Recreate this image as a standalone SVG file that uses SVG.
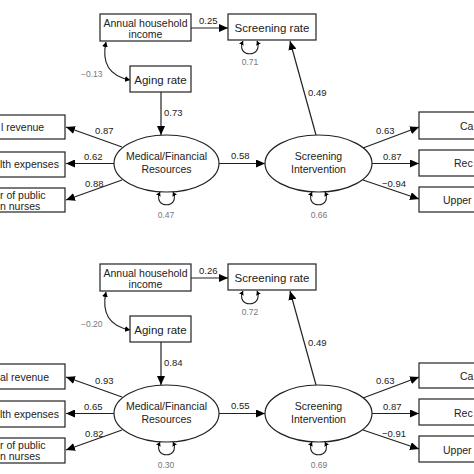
<svg xmlns="http://www.w3.org/2000/svg" width="474" height="474" viewBox="0 0 474 474">
<defs>
<marker id="ah" markerUnits="userSpaceOnUse" markerWidth="10" markerHeight="8" refX="9" refY="4" orient="auto-start-reverse"><path d="M0,0 L9,4 L0,8 Z" fill="#000"/></marker>
<marker id="sh" markerUnits="userSpaceOnUse" markerWidth="6" markerHeight="6" refX="5" refY="3" orient="auto-start-reverse"><path d="M0,0 L5,3 L0,6 Z" fill="#000"/></marker>
<marker id="lh" markerUnits="userSpaceOnUse" markerWidth="5" markerHeight="5" refX="4" refY="2.5" orient="auto-start-reverse"><path d="M0,0 L4,2.5 L0,5 Z" fill="#000"/></marker>
</defs>
<style>
.box{fill:#fff;stroke:#222;stroke-width:1.2}
.ell{fill:#fff;stroke:#222;stroke-width:1.2}
.ln{fill:none;stroke:#222;stroke-width:1.2;marker-end:url(#ah)}
.dbl{fill:none;stroke:#222;stroke-width:1.2;marker-start:url(#sh);marker-end:url(#sh)}
.loop{fill:none;stroke:#222;stroke-width:1.1;marker-start:url(#lh);marker-end:url(#lh)}
.t{font-family:"Liberation Sans",Arial,sans-serif;font-size:11.5px;fill:#222}
.ts{font-family:"Liberation Sans",Arial,sans-serif;font-size:10.5px;fill:#222}
.c{text-anchor:middle}
.n{font-family:"Liberation Sans",Arial,sans-serif;font-size:9.5px;fill:#222}
.g{font-family:"Liberation Sans",Arial,sans-serif;font-size:8.5px;fill:#777}
</style>

<!-- ===== Top panel ===== -->
<g id="top">
<g id="connectors-top">
<line class="ln" x1="191" y1="28" x2="228" y2="28"/>
<path class="dbl" d="M106,42 Q99,74 130,80"/>
<line class="ln" x1="161" y1="92" x2="161" y2="135"/>
<line class="ln" x1="122" y1="147" x2="66" y2="127"/>
<line class="ln" x1="114" y1="163.5" x2="66" y2="163.5"/>
<line class="ln" x1="122" y1="180" x2="66" y2="200"/>
<line class="ln" x1="219" y1="163.5" x2="265" y2="163.5"/>
<line class="ln" x1="316" y1="135" x2="290" y2="41"/>
<line class="ln" x1="363" y1="148" x2="419" y2="127"/>
<line class="ln" x1="372" y1="163.5" x2="419" y2="163.5"/>
<line class="ln" x1="363" y1="180" x2="419" y2="199"/>
<path class="loop" d="M243,41 C235,58 264,58 257,41"/>
<path class="loop" d="M160,192 C152,209 181,209 173,192"/>
<path class="loop" d="M312,192 C304,209 333,209 325,192"/>
<text class="n" x="199" y="24">0.25</text>
<text class="g" x="81" y="77">−0.13</text>
<text class="g c" x="250" y="65">0.71</text>
<text class="n" x="164" y="116">0.73</text>
<text class="n" x="95" y="134">0.87</text>
<text class="n" x="84" y="160">0.62</text>
<text class="n" x="85" y="187">0.88</text>
<text class="g c" x="166" y="218">0.47</text>
<text class="n" x="231" y="159">0.58</text>
<text class="n" x="308" y="96">0.49</text>
<text class="n" x="376" y="134">0.63</text>
<text class="n" x="383" y="160">0.87</text>
<text class="n" x="382" y="187">−0.94</text>
<text class="g c" x="319" y="218">0.66</text>
</g>
<g id="income-top"><rect class="box" x="100" y="14" width="91" height="27"/><text class="ts c" x="145.5" y="27">Annual household</text><text class="ts c" x="145.5" y="37.5">income</text></g>
<g id="screenrate-top"><rect class="box" x="228" y="14" width="88" height="26"/><text class="t c" x="272" y="31.5">Screening rate</text></g>
<g id="aging-top"><rect class="box" x="130" y="66" width="61" height="26"/><text class="t c" x="160.5" y="83.5">Aging rate</text></g>
<g id="medfin-top"><ellipse class="ell" cx="166.5" cy="163.5" rx="52.5" ry="28.5"/><text class="ts c" x="166.5" y="160">Medical/Financial</text><text class="ts c" x="166.5" y="173">Resources</text></g>
<g id="screenint-top"><ellipse class="ell" cx="318.5" cy="163.5" rx="53.5" ry="28.5"/><text class="ts c" x="318.5" y="160">Screening</text><text class="ts c" x="318.5" y="173">Intervention</text></g>
<g id="rev-top"><rect class="box" x="-5" y="115" width="70" height="24"/><text class="ts" x="1" y="131">l revenue</text></g>
<g id="hexp-top"><rect class="box" x="-5" y="152" width="70" height="25"/><text class="ts" x="0" y="168">lth expenses</text></g>
<g id="nurse-top"><rect class="box" x="-5" y="188" width="70" height="24"/><text class="ts" x="0" y="199">r of public</text><text class="ts" x="0" y="209.5">n nurses</text></g>
<g id="ca-top"><rect class="box" x="419" y="112" width="60" height="27"/><text class="ts" x="460" y="130">Ca</text></g>
<g id="rec-top"><rect class="box" x="419" y="150" width="60" height="26"/><text class="ts" x="454" y="167">Rec</text></g>
<g id="upper-top"><rect class="box" x="419" y="187" width="60" height="25"/><text class="ts" x="443" y="204">Upper</text></g>
</g>

<!-- ===== Bottom panel ===== -->
<g id="bottom" transform="translate(0,250)">
<g id="connectors-bottom">
<line class="ln" x1="191" y1="28" x2="228" y2="28"/>
<path class="dbl" d="M106,42 Q99,74 130,80"/>
<line class="ln" x1="161" y1="92" x2="161" y2="135"/>
<line class="ln" x1="122" y1="147" x2="66" y2="127"/>
<line class="ln" x1="114" y1="163.5" x2="66" y2="163.5"/>
<line class="ln" x1="122" y1="180" x2="66" y2="200"/>
<line class="ln" x1="219" y1="163.5" x2="265" y2="163.5"/>
<line class="ln" x1="316" y1="135" x2="290" y2="41"/>
<line class="ln" x1="363" y1="148" x2="419" y2="127"/>
<line class="ln" x1="372" y1="163.5" x2="419" y2="163.5"/>
<line class="ln" x1="363" y1="180" x2="419" y2="199"/>
<path class="loop" d="M243,41 C235,58 264,58 257,41"/>
<path class="loop" d="M160,192 C152,209 181,209 173,192"/>
<path class="loop" d="M312,192 C304,209 333,209 325,192"/>
<text class="n" x="199" y="24">0.26</text>
<text class="g" x="81" y="77">−0.20</text>
<text class="g c" x="250" y="65">0.72</text>
<text class="n" x="164" y="116">0.84</text>
<text class="n" x="95" y="134">0.93</text>
<text class="n" x="84" y="160">0.65</text>
<text class="n" x="85" y="187">0.82</text>
<text class="g c" x="166" y="218">0.30</text>
<text class="n" x="231" y="159">0.55</text>
<text class="n" x="308" y="96">0.49</text>
<text class="n" x="376" y="134">0.63</text>
<text class="n" x="383" y="160">0.87</text>
<text class="n" x="382" y="187">−0.91</text>
<text class="g c" x="319" y="218">0.69</text>
</g>
<g id="income-bottom"><rect class="box" x="100" y="14" width="91" height="27"/><text class="ts c" x="145.5" y="27">Annual household</text><text class="ts c" x="145.5" y="37.5">income</text></g>
<g id="screenrate-bottom"><rect class="box" x="228" y="14" width="88" height="26"/><text class="t c" x="272" y="31.5">Screening rate</text></g>
<g id="aging-bottom"><rect class="box" x="130" y="66" width="61" height="26"/><text class="t c" x="160.5" y="83.5">Aging rate</text></g>
<g id="medfin-bottom"><ellipse class="ell" cx="166.5" cy="163.5" rx="52.5" ry="28.5"/><text class="ts c" x="166.5" y="160">Medical/Financial</text><text class="ts c" x="166.5" y="173">Resources</text></g>
<g id="screenint-bottom"><ellipse class="ell" cx="318.5" cy="163.5" rx="53.5" ry="28.5"/><text class="ts c" x="318.5" y="160">Screening</text><text class="ts c" x="318.5" y="173">Intervention</text></g>
<g id="rev-bottom"><rect class="box" x="-5" y="114" width="70" height="25"/><text class="ts" x="0" y="131">al revenue</text></g>
<g id="hexp-bottom"><rect class="box" x="-5" y="151" width="70" height="26"/><text class="ts" x="0" y="168">lth expenses</text></g>
<g id="nurse-bottom"><rect class="box" x="-5" y="188" width="70" height="25"/><text class="ts" x="0" y="199">r of public</text><text class="ts" x="0" y="209.5">n nurses</text></g>
<g id="ca-bottom"><rect class="box" x="419" y="113" width="60" height="25"/><text class="ts" x="460" y="130">Ca</text></g>
<g id="rec-bottom"><rect class="box" x="419" y="149" width="60" height="26"/><text class="ts" x="454" y="167">Rec</text></g>
<g id="upper-bottom"><rect class="box" x="419" y="186" width="60" height="26"/><text class="ts" x="443" y="204">Upper</text></g>
</g>
</svg>
